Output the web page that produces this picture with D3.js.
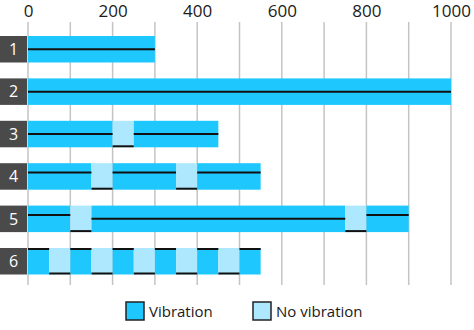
<!DOCTYPE html>
<html><head><meta charset="utf-8">
<script src="https://cdn.jsdelivr.net/npm/d3@7"></script>
<style>
html,body{margin:0;padding:0;background:#fff;}
svg{display:block;font-family:"Open Sans","Noto Sans",sans-serif;}
</style></head>
<body><svg id="c" width="474" height="330"></svg>
<script>
// Data
const rowLabels = ["1","2","3","4","5","6"];
const segmentBounds = [
  [0,300],
  [0,1000],
  [0,200,250,450],
  [0,150,200,350,400,550],
  [0,100,150,750,800,900],
  [0,50,100,150,200,250,300,350,400,450,500,550]
];
const segmentStates = [
  ["Vibration"],
  ["Vibration"],
  ["Vibration","No vibration","Vibration"],
  ["Vibration","No vibration","Vibration","No vibration","Vibration"],
  ["Vibration","No vibration","Vibration","No vibration","Vibration"],
  ["Vibration","No vibration","Vibration","No vibration","Vibration","No vibration","Vibration","No vibration","Vibration","No vibration","Vibration"]
];
const segmentLevels = [
  [0.5],
  [0.5],
  [0.5,0,0.5],
  [0.66,0,0.66,0,0.66],
  [0.66,0,0.5,0,0.66],
  [1,0,1,0,1,0,1,0,1,0,1]
];
const tickLabels = [0,200,400,600,800,1000];
const gridValues = [0,100,200,300,400,500,600,700,800,900,1000];
const legendItems = ["Vibration","No vibration"];

const svg = d3.select("#c");
const x = d3.scaleLinear().domain([0,1000]).range([28,451]);
const y = d3.scaleBand().domain(rowLabels).range([36,274.5]).paddingInner(0.375).paddingOuter(0);
const color = d3.scaleOrdinal().domain(legendItems).range(["#1ec8ff","#aee8ff"]);
const lvl = d3.scaleLinear().domain([0,1]);

// gridlines
svg.append("g").selectAll("line").data(gridValues).join("line")
  .attr("x1",d=>x(d)).attr("x2",d=>x(d))
  .attr("y1",22).attr("y2",285)
  .attr("stroke","#c4c4c4").attr("stroke-width",1.5);

// top axis labels
const ax = svg.append("g").attr("transform","translate(0,17)")
  .call(d3.axisTop(x).tickValues(tickLabels).tickSize(0).tickPadding(0).tickFormat(d3.format("d")));
ax.select(".domain").remove();
ax.selectAll("text").attr("font-size",17).attr("fill","#1a1a1a")
  .attr("font-family","'Open Sans','Noto Sans',sans-serif").attr("dy",0);

// segments
const segs = [];
rowLabels.forEach((r,i)=>{
  const b = segmentBounds[i];
  for(let k=0;k<b.length-1;k++){
    segs.push({row:r,start:b[k],end:b[k+1],state:segmentStates[i][k],level:segmentLevels[i][k]});
  }
});
const bh = y.bandwidth();
svg.append("g").selectAll("rect").data(segs).join("rect")
  .attr("x",d=>x(d.start)).attr("width",d=>x(d.end)-x(d.start))
  .attr("y",d=>y(d.row)).attr("height",bh)
  .attr("fill",d=>color(d.state));
svg.append("g").selectAll("line").data(segs).join("line")
  .attr("x1",d=>x(d.start)).attr("x2",d=>x(d.end))
  .attr("y1",d=>{lvl.range([y(d.row)+bh-1,y(d.row)+1]);return lvl(d.level);})
  .attr("y2",d=>{lvl.range([y(d.row)+bh-1,y(d.row)+1]);return lvl(d.level);})
  .attr("stroke","#111").attr("stroke-width",2);

// row label boxes
const rl = svg.append("g").selectAll("g").data(rowLabels).join("g");
rl.append("rect").attr("x",0).attr("width",27).attr("y",d=>y(d)).attr("height",bh).attr("fill","#4a4a4a");
rl.append("text").attr("x",13.5).attr("y",d=>y(d)+bh/2).attr("dy","0.36em")
  .attr("text-anchor","middle").attr("fill","#fff").attr("font-size",16).text(d=>d);

// legend
const legX = [126,253];
const lg = svg.append("g").selectAll("g").data(legendItems).join("g")
  .attr("transform",(d,i)=>`translate(${legX[i]},302)`);
lg.append("rect").attr("width",18).attr("height",18).attr("fill",d=>color(d))
  .attr("stroke","#222").attr("stroke-width",1.5);
lg.append("text").attr("x",23).attr("y",15).attr("font-size",15).attr("fill","#1a1a1a").text(d=>d);
</script></body></html>
